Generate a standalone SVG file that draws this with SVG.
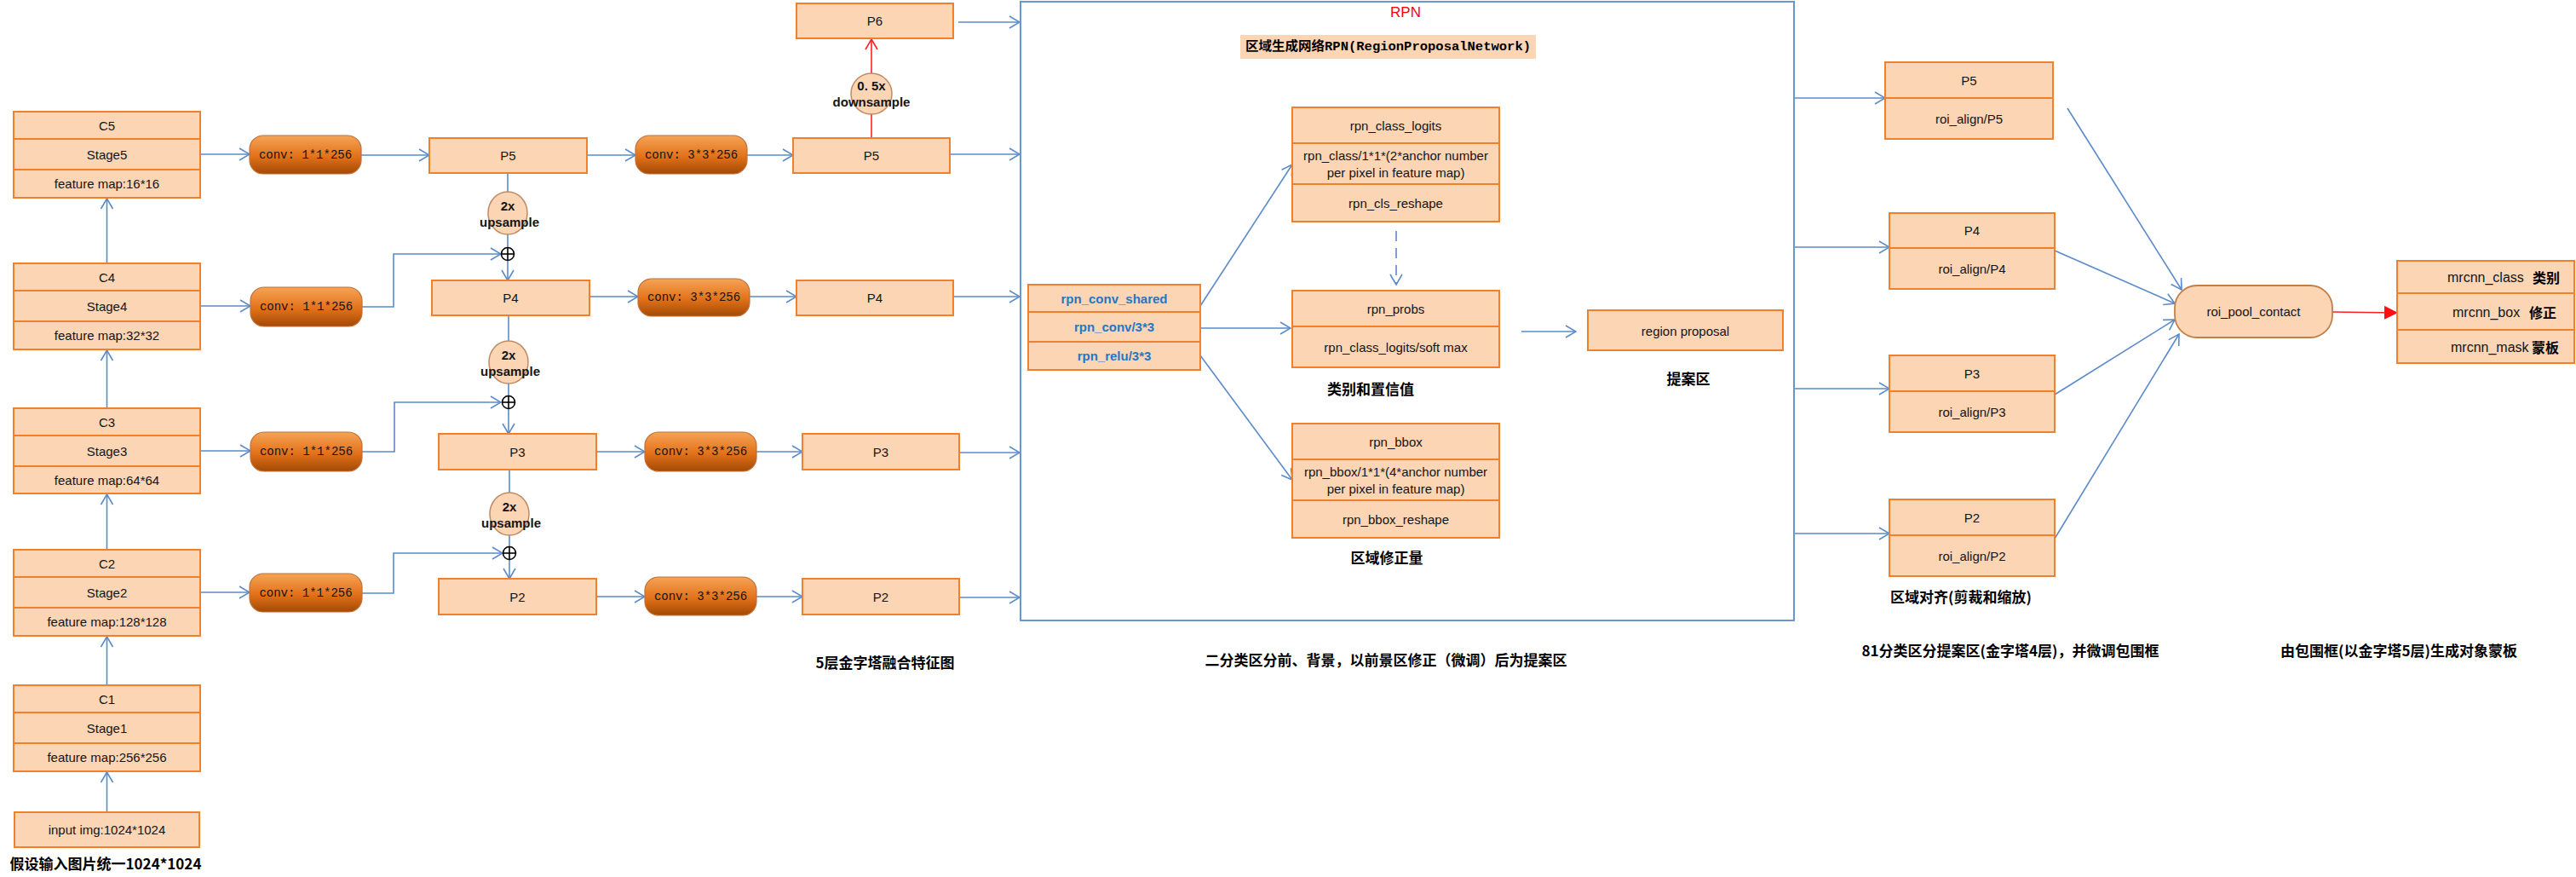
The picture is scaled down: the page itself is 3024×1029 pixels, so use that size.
<svg xmlns="http://www.w3.org/2000/svg" width="3024" height="1029" viewBox="0 0 3024 1029">
<defs>
<linearGradient id="pillGrad" x1="0" y1="0" x2="0" y2="1">
<stop offset="0" stop-color="#F5A456"/>
<stop offset="0.55" stop-color="#E2711A"/>
<stop offset="1" stop-color="#A24A04"/>
</linearGradient>
<marker id="arr" viewBox="0 0 14 16" refX="13" refY="8" markerWidth="14" markerHeight="16" markerUnits="userSpaceOnUse" orient="auto">
<path d="M1,1 L13,8 L1,15" fill="none" stroke="#5B8BC9" stroke-width="1.6"/>
</marker>
<marker id="arrRed" viewBox="0 0 14 16" refX="13" refY="8" markerWidth="14" markerHeight="16" markerUnits="userSpaceOnUse" orient="auto">
<path d="M1,1 L13,8 L1,15" fill="none" stroke="#FF2020" stroke-width="1.6"/>
</marker>
<marker id="arrRedFill" viewBox="0 0 16 16" refX="15" refY="8" markerWidth="16" markerHeight="16" markerUnits="userSpaceOnUse" orient="auto">
<path d="M0,0 L16,8 L0,16 Z" fill="#FF1010"/>
</marker>
</defs>
<style>
.box{fill:#FCD5B4;stroke:#F0802C;stroke-width:2}
.sep{stroke:#F0802C;stroke-width:2}
.pill{fill:url(#pillGrad);stroke:#C0703A;stroke-width:1.2}
.ell{fill:#FCD5B4;stroke:#C08A60;stroke-width:1.5}
.t{font-family:"Liberation Sans",Arial,sans-serif;font-size:15px;fill:#141414;text-anchor:middle;dominant-baseline:central}
.tl{font-family:"Liberation Sans",Arial,sans-serif;font-size:16px;fill:#141414;text-anchor:start;dominant-baseline:central}
.tc{font-family:"Noto Sans CJK SC",sans-serif;font-size:16px;font-weight:bold;fill:#000;text-anchor:start;dominant-baseline:central}
.tm{font-family:"Liberation Mono","Courier New",monospace;font-size:14px;fill:#141414;text-anchor:middle;dominant-baseline:central}
.tb{font-family:"Liberation Sans",Arial,sans-serif;font-size:15px;font-weight:bold;fill:#141414;text-anchor:middle;dominant-baseline:central}
.tblue{font-family:"Liberation Sans",Arial,sans-serif;font-size:15px;font-weight:bold;fill:#1F78C8;text-anchor:middle;dominant-baseline:central}
.cjk{font-family:"Noto Sans CJK SC","Liberation Sans",sans-serif;font-size:17px;font-weight:bold;fill:#000;text-anchor:middle;dominant-baseline:central}
.ln{fill:none;stroke:#5B8BC9;stroke-width:1.6}
.la{fill:none;stroke:#5B8BC9;stroke-width:1.6;marker-end:url(#arr)}
.plus{fill:none;stroke:#000;stroke-width:1.6}
</style>
<rect width="3024" height="1029" fill="#FFFFFF"/>

<g id="connectors">
<line class="la" x1="125.5" y1="953" x2="125.5" y2="906"/>
<line class="la" x1="125.5" y1="804" x2="125.5" y2="747"/>
<line class="la" x1="125.5" y1="645" x2="125.5" y2="580"/>
<line class="la" x1="125.5" y1="479" x2="125.5" y2="411"/>
<line class="la" x1="125.5" y1="309" x2="125.5" y2="233"/>
<line class="la" x1="235" y1="181" x2="293" y2="181"/>
<line class="la" x1="235" y1="359" x2="294" y2="359"/>
<line class="la" x1="235" y1="529" x2="294" y2="529"/>
<line class="la" x1="235" y1="695" x2="293" y2="695"/>
<line class="la" x1="424" y1="182" x2="504" y2="182"/>
<polyline class="la" points="425,360 462,360 462,298 588,298"/>
<polyline class="la" points="425,530 463,530 463,472 588,472"/>
<polyline class="la" points="425,696 462,696 462,649 590,649"/>
<line class="ln" x1="596" y1="203" x2="596" y2="226"/>
<line class="ln" x1="596" y1="275" x2="596" y2="290"/>
<line class="la" x1="596" y1="306" x2="596" y2="329"/>
<line class="ln" x1="597" y1="370" x2="597" y2="400"/>
<line class="ln" x1="597" y1="450" x2="597" y2="464"/>
<line class="la" x1="597" y1="480" x2="597" y2="509"/>
<line class="ln" x1="598" y1="551" x2="598" y2="578"/>
<line class="ln" x1="598" y1="628" x2="598" y2="641"/>
<line class="la" x1="598" y1="657" x2="598" y2="679"/>
<line class="la" x1="689" y1="182" x2="746" y2="182"/>
<line class="la" x1="877" y1="182" x2="931" y2="182"/>
<line class="la" x1="692" y1="348" x2="749" y2="348"/>
<line class="la" x1="880" y1="348" x2="935" y2="348"/>
<line class="la" x1="700" y1="530" x2="757" y2="530"/>
<line class="la" x1="888" y1="530" x2="942" y2="530"/>
<line class="la" x1="700" y1="700" x2="757" y2="700"/>
<line class="la" x1="888" y1="700" x2="942" y2="700"/>
<line x1="1023" y1="162" x2="1023" y2="134" stroke="#FF2020" stroke-width="1.6"/>
<line x1="1023" y1="86" x2="1023" y2="46" stroke="#FF2020" stroke-width="1.6" marker-end="url(#arrRed)"/>
<line class="la" x1="1125" y1="26" x2="1197" y2="26"/>
<line class="la" x1="1115" y1="181" x2="1197" y2="181"/>
<line class="la" x1="1119" y1="348" x2="1197" y2="348"/>
<line class="la" x1="1126" y1="531" x2="1197" y2="531"/>
<line class="la" x1="1126" y1="701" x2="1197" y2="701"/>
<line class="la" x1="1409" y1="359" x2="1517" y2="193"/>
<line class="la" x1="1409" y1="385" x2="1515" y2="385"/>
<line class="la" x1="1409" y1="417" x2="1517" y2="563"/>
<line class="la" x1="1639" y1="271" x2="1639" y2="334" stroke-dasharray="12,8"/>
<line class="la" x1="1786" y1="389" x2="1850" y2="389"/>
<line class="la" x1="2106" y1="115" x2="2213" y2="115"/>
<line class="la" x1="2106" y1="290" x2="2218" y2="290"/>
<line class="la" x1="2106" y1="456" x2="2218" y2="456"/>
<line class="la" x1="2106" y1="626" x2="2218" y2="626"/>
<line class="la" x1="2427" y1="127" x2="2561" y2="340"/>
<line class="la" x1="2412" y1="294" x2="2553" y2="356"/>
<line class="la" x1="2412" y1="463" x2="2553" y2="375"/>
<line class="la" x1="2412" y1="632" x2="2558" y2="392"/>
<line x1="2738" y1="366" x2="2814" y2="367" stroke="#FF2020" stroke-width="1.6" marker-end="url(#arrRedFill)"/>
</g>

<g id="C5">
<rect class="box" x="16" y="131" width="219" height="101"/>
<line class="sep" x1="16" y1="163" x2="235" y2="163"/>
<line class="sep" x1="16" y1="199" x2="235" y2="199"/>
<text class="t" x="125.5" y="147">C5</text>
<text class="t" x="125.5" y="181">Stage5</text>
<text class="t" x="125.5" y="215.5">feature map:16*16</text>
</g>
<g id="C4">
<rect class="box" x="16" y="309" width="219" height="101"/>
<line class="sep" x1="16" y1="341" x2="235" y2="341"/>
<line class="sep" x1="16" y1="377" x2="235" y2="377"/>
<text class="t" x="125.5" y="325">C4</text>
<text class="t" x="125.5" y="359">Stage4</text>
<text class="t" x="125.5" y="393.5">feature map:32*32</text>
</g>
<g id="C3">
<rect class="box" x="16" y="479" width="219" height="100"/>
<line class="sep" x1="16" y1="511" x2="235" y2="511"/>
<line class="sep" x1="16" y1="547" x2="235" y2="547"/>
<text class="t" x="125.5" y="495">C3</text>
<text class="t" x="125.5" y="529">Stage3</text>
<text class="t" x="125.5" y="563">feature map:64*64</text>
</g>
<g id="C2">
<rect class="box" x="16" y="645" width="219" height="101"/>
<line class="sep" x1="16" y1="677" x2="235" y2="677"/>
<line class="sep" x1="16" y1="713" x2="235" y2="713"/>
<text class="t" x="125.5" y="661">C2</text>
<text class="t" x="125.5" y="695">Stage2</text>
<text class="t" x="125.5" y="729.5">feature map:128*128</text>
</g>
<g id="C1">
<rect class="box" x="16" y="804" width="219" height="101"/>
<line class="sep" x1="16" y1="836" x2="235" y2="836"/>
<line class="sep" x1="16" y1="872" x2="235" y2="872"/>
<text class="t" x="125.5" y="820">C1</text>
<text class="t" x="125.5" y="854">Stage1</text>
<text class="t" x="125.5" y="888.5">feature map:256*256</text>
</g>
<g id="input">
<rect class="box" x="17" y="953" width="217" height="41"/>
<text class="t" x="125.5" y="973.5">input img:1024*1024</text>
</g>
<text class="cjk" x="124" y="1012">假设输入图片统一1024*1024</text>

<g id="conv1x1_5"><rect class="pill" x="293" y="159" width="131" height="45" rx="16"/><text class="tm" x="358.5" y="181.5">conv: 1*1*256</text></g>
<g id="conv1x1_4"><rect class="pill" x="294" y="337" width="131" height="46" rx="16"/><text class="tm" x="359.5" y="360">conv: 1*1*256</text></g>
<g id="conv1x1_3"><rect class="pill" x="294" y="507" width="131" height="46" rx="16"/><text class="tm" x="359.5" y="530">conv: 1*1*256</text></g>
<g id="conv1x1_2"><rect class="pill" x="293" y="673" width="132" height="45" rx="16"/><text class="tm" x="359" y="695.5">conv: 1*1*256</text></g>

<g id="P5a"><rect class="box" x="504" y="162" width="185" height="41"/><text class="t" x="596.5" y="182.5">P5</text></g>
<g id="P4a"><rect class="box" x="507" y="329" width="185" height="41"/><text class="t" x="599.5" y="349.5">P4</text></g>
<g id="P3a"><rect class="box" x="515" y="509" width="185" height="42"/><text class="t" x="607.5" y="530">P3</text></g>
<g id="P2a"><rect class="box" x="515" y="679" width="185" height="42"/><text class="t" x="607.5" y="700">P2</text></g>

<g id="up1"><ellipse class="ell" cx="596" cy="250" rx="23" ry="25"/><text class="tb" x="596" y="241">2x</text><text class="tb" x="598" y="260">upsample</text></g>
<g id="up2"><ellipse class="ell" cx="597" cy="425" rx="23" ry="25"/><text class="tb" x="597" y="416">2x</text><text class="tb" x="599" y="435">upsample</text></g>
<g id="up3"><ellipse class="ell" cx="598" cy="603" rx="23" ry="25"/><text class="tb" x="598" y="594">2x</text><text class="tb" x="600" y="613">upsample</text></g>

<g id="add1"><circle class="plus" cx="596" cy="298" r="7.5"/><line class="plus" x1="588.5" y1="298" x2="603.5" y2="298"/><line class="plus" x1="596" y1="290.5" x2="596" y2="305.5"/></g>
<g id="add2"><circle class="plus" cx="597" cy="472" r="7.5"/><line class="plus" x1="589.5" y1="472" x2="604.5" y2="472"/><line class="plus" x1="597" y1="464.5" x2="597" y2="479.5"/></g>
<g id="add3"><circle class="plus" cx="598" cy="649" r="7.5"/><line class="plus" x1="590.5" y1="649" x2="605.5" y2="649"/><line class="plus" x1="598" y1="641.5" x2="598" y2="656.5"/></g>

<g id="conv3x3_5"><rect class="pill" x="746" y="159" width="131" height="45" rx="16"/><text class="tm" x="811.5" y="181.5">conv: 3*3*256</text></g>
<g id="conv3x3_4"><rect class="pill" x="749" y="327" width="131" height="44" rx="16"/><text class="tm" x="814.5" y="349">conv: 3*3*256</text></g>
<g id="conv3x3_3"><rect class="pill" x="757" y="507" width="131" height="46" rx="16"/><text class="tm" x="822.5" y="530">conv: 3*3*256</text></g>
<g id="conv3x3_2"><rect class="pill" x="757" y="677" width="131" height="45" rx="16"/><text class="tm" x="822.5" y="699.5">conv: 3*3*256</text></g>

<g id="P6"><rect class="box" x="935" y="4" width="184" height="41"/><text class="t" x="1027" y="24.5">P6</text></g>
<g id="down"><ellipse class="ell" cx="1023" cy="110" rx="24" ry="24"/><text class="tb" x="1023" y="100">0. 5x</text><text class="tb" x="1023" y="119">downsample</text></g>
<g id="P5b"><rect class="box" x="931" y="162" width="184" height="41"/><text class="t" x="1023" y="182.5">P5</text></g>
<g id="P4b"><rect class="box" x="935" y="329" width="184" height="41"/><text class="t" x="1027" y="349.5">P4</text></g>
<g id="P3b"><rect class="box" x="942" y="509" width="184" height="42"/><text class="t" x="1034" y="530">P3</text></g>
<g id="P2b"><rect class="box" x="942" y="679" width="184" height="42"/><text class="t" x="1034" y="700">P2</text></g>
<text class="cjk" x="1039" y="776">5层金字塔融合特征图</text>

<g id="RPN">
<rect x="1198" y="2" width="908" height="726" fill="none" stroke="#6A96D0" stroke-width="2"/>
<text x="1650" y="14" font-family="'Liberation Sans',Arial,sans-serif" font-size="17" fill="#FF0000" text-anchor="middle" dominant-baseline="central">RPN</text>
<rect x="1456" y="41" width="347" height="28" fill="#FCD5B4"/>
<text x="1629.5" y="55" font-family="'Liberation Mono','Noto Sans CJK SC',monospace" font-size="15" font-weight="bold" fill="#000" text-anchor="middle" dominant-baseline="central" textLength="335" lengthAdjust="spacingAndGlyphs">区域生成网络RPN(RegionProposalNetwork)</text>
</g>
<g id="rpn_conv_shared">
<rect class="box" x="1207" y="334" width="202" height="100"/>
<line class="sep" x1="1207" y1="366" x2="1409" y2="366"/>
<line class="sep" x1="1207" y1="401" x2="1409" y2="401"/>
<text class="tblue" x="1308" y="350">rpn_conv_shared</text>
<text class="tblue" x="1308" y="383.5">rpn_conv/3*3</text>
<text class="tblue" x="1308" y="417.5">rpn_relu/3*3</text>
</g>
<g id="rpn_class_logits">
<rect class="box" x="1517" y="126" width="243" height="134"/>
<line class="sep" x1="1517" y1="168" x2="1760" y2="168"/>
<line class="sep" x1="1517" y1="216" x2="1760" y2="216"/>
<text class="t" x="1638.5" y="147">rpn_class_logits</text>
<text class="t" x="1638.5" y="182">rpn_class/1*1*(2*anchor number</text>
<text class="t" x="1638.5" y="202">per pixel in feature map)</text>
<text class="t" x="1638.5" y="238">rpn_cls_reshape</text>
</g>
<g id="rpn_probs">
<rect class="box" x="1517" y="341" width="243" height="90"/>
<line class="sep" x1="1517" y1="383" x2="1760" y2="383"/>
<text class="t" x="1638.5" y="362">rpn_probs</text>
<text class="t" x="1638.5" y="407">rpn_class_logits/soft max</text>
</g>
<text class="cjk" x="1609" y="455">类别和置信值</text>
<g id="rpn_bbox">
<rect class="box" x="1517" y="497" width="243" height="134"/>
<line class="sep" x1="1517" y1="539" x2="1760" y2="539"/>
<line class="sep" x1="1517" y1="587" x2="1760" y2="587"/>
<text class="t" x="1638.5" y="518">rpn_bbox</text>
<text class="t" x="1638.5" y="553">rpn_bbox/1*1*(4*anchor number</text>
<text class="t" x="1638.5" y="573">per pixel in feature map)</text>
<text class="t" x="1638.5" y="609">rpn_bbox_reshape</text>
</g>
<text class="cjk" x="1628" y="653">区域修正量</text>
<g id="region_proposal">
<rect class="box" x="1864" y="364" width="229" height="47"/>
<text class="t" x="1978.5" y="388">region proposal</text>
</g>
<text class="cjk" x="1982" y="443">提案区</text>
<text class="cjk" x="1627" y="773">二分类区分前、背景，以前景区修正（微调）后为提案区</text>

<g id="roi_P5">
<rect class="box" x="2213" y="73" width="197" height="90"/>
<line class="sep" x1="2213" y1="115" x2="2410" y2="115"/>
<text class="t" x="2311.5" y="94">P5</text>
<text class="t" x="2311.5" y="139">roi_align/P5</text>
</g>
<g id="roi_P4">
<rect class="box" x="2218" y="250" width="194" height="89"/>
<line class="sep" x1="2218" y1="291" x2="2412" y2="291"/>
<text class="t" x="2315" y="270.5">P4</text>
<text class="t" x="2315" y="315">roi_align/P4</text>
</g>
<g id="roi_P3">
<rect class="box" x="2218" y="417" width="194" height="90"/>
<line class="sep" x1="2218" y1="459" x2="2412" y2="459"/>
<text class="t" x="2315" y="438">P3</text>
<text class="t" x="2315" y="483">roi_align/P3</text>
</g>
<g id="roi_P2">
<rect class="box" x="2218" y="586" width="194" height="90"/>
<line class="sep" x1="2218" y1="628" x2="2412" y2="628"/>
<text class="t" x="2315" y="607">P2</text>
<text class="t" x="2315" y="652">roi_align/P2</text>
</g>
<text class="cjk" x="2302" y="699">区域对齐(剪裁和缩放)</text>
<text class="cjk" x="2360" y="762">81分类区分提案区(金字塔4层)，并微调包围框</text>

<g id="roi_pool_contact">
<rect x="2553" y="335" width="185" height="61" rx="26" fill="#FCD5B4" stroke="#C0804A" stroke-width="1.8"/>
<text class="t" x="2645.5" y="365.5">roi_pool_contact</text>
</g>
<g id="heads">
<rect class="box" x="2814" y="306" width="208" height="120"/>
<line class="sep" x1="2814" y1="344" x2="3022" y2="344"/>
<line class="sep" x1="2814" y1="387" x2="3022" y2="387"/>
<text class="tl" x="2873" y="325">mrcnn_class</text>
<text class="tc" x="2973" y="325">类别</text>
<text class="tl" x="2879" y="366">mrcnn_box</text>
<text class="tc" x="2969" y="366">修正</text>
<text class="tl" x="2877" y="407">mrcnn_mask</text>
<text class="tc" x="2972" y="407">蒙板</text>
</g>
<text class="cjk" x="2816" y="762">由包围框(以金字塔5层)生成对象蒙板</text>
</svg>
